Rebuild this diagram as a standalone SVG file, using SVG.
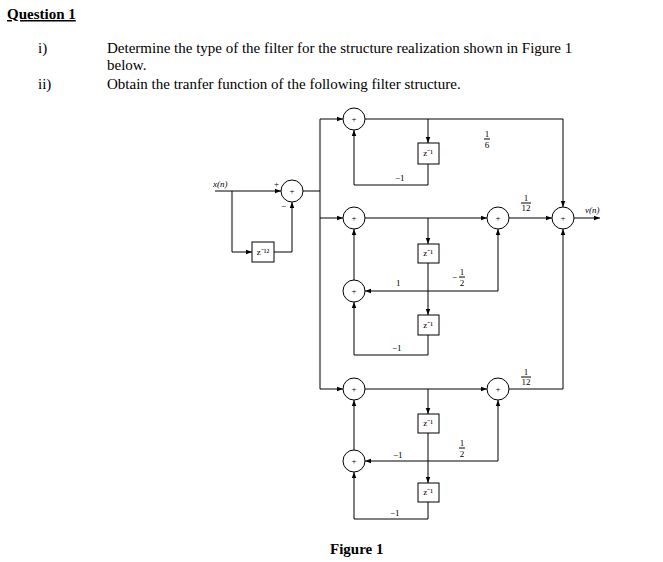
<svg xmlns="http://www.w3.org/2000/svg" width="663" height="562" viewBox="0 0 663 562">
<style>
.t{font-family:"Liberation Serif",serif;font-size:15px;fill:#000}
.s{font-family:"Liberation Serif",serif;font-size:9px;fill:#000}
.w{fill:none;stroke:#000;stroke-width:1}
.add{fill:#fff;stroke:#000;stroke-width:1}
.box{fill:#fff;stroke:#000;stroke-width:1}
</style>
<defs><marker id="a" viewBox="0 0 8 8" refX="8" refY="4" markerWidth="6" markerHeight="6" orient="auto"><path d="M0,1L8,4L0,7z" fill="#000"/></marker></defs>
<rect width="663" height="562" fill="#fff"/>
<text class="t" x="7" y="19" font-weight="bold" text-decoration="underline">Question 1</text>
<text class="t" x="38" y="53">i)</text>
<text class="t" x="107" y="53">Determine the type of the filter for the structure realization shown in Figure 1</text>
<text class="t" x="107" y="70">below.</text>
<text class="t" x="38" y="89">ii)</text>
<text class="t" x="107" y="89">Obtain the tranfer function of the following filter structure.</text>
<text class="t" x="330" y="554" font-weight="bold">Figure 1</text>
<g id="connectors">
<path class="w" d="M215,191H281" marker-end="url(#a)"/>
<path class="w" d="M232,191V252H252" marker-end="url(#a)"/>
<path class="w" d="M274,252H292V202" marker-end="url(#a)"/>
<path class="w" d="M303,191H320"/>
<path class="w" d="M320,119V389"/>
<path class="w" d="M320,119H343" marker-end="url(#a)"/>
<path class="w" d="M320,218H343" marker-end="url(#a)"/>
<path class="w" d="M320,389H343" marker-end="url(#a)"/>
<path class="w" d="M365,119H563V207" marker-end="url(#a)"/>
<path class="w" d="M428,119V143" marker-end="url(#a)"/>
<path class="w" d="M428,164V185H354V130" marker-end="url(#a)"/>
<path class="w" d="M365,218H487" marker-end="url(#a)"/>
<path class="w" d="M428,218V244" marker-end="url(#a)"/>
<path class="w" d="M428,263V315" marker-end="url(#a)"/>
<path class="w" d="M428,291H365" marker-end="url(#a)"/>
<path class="w" d="M428,291H498V229" marker-end="url(#a)"/>
<path class="w" d="M428,335V355H354V302" marker-end="url(#a)"/>
<path class="w" d="M354,280V229" marker-end="url(#a)"/>
<path class="w" d="M509,218H552" marker-end="url(#a)"/>
<path class="w" d="M574,218H600" marker-end="url(#a)"/>
<path class="w" d="M365,389H487" marker-end="url(#a)"/>
<path class="w" d="M428,389V414" marker-end="url(#a)"/>
<path class="w" d="M428,433V483" marker-end="url(#a)"/>
<path class="w" d="M428,461H365" marker-end="url(#a)"/>
<path class="w" d="M428,461H498V400" marker-end="url(#a)"/>
<path class="w" d="M428,502V519H354V472" marker-end="url(#a)"/>
<path class="w" d="M354,450V400" marker-end="url(#a)"/>
<path class="w" d="M509,389H563V229" marker-end="url(#a)"/>
</g>
<g id="adders">
<g id="Ain"><circle class="add" cx="292" cy="191" r="11"/><text class="s" x="292" y="194" text-anchor="middle">+</text></g>
<g id="A1"><circle class="add" cx="354" cy="119" r="11"/><text class="s" x="354" y="122" text-anchor="middle">+</text></g>
<g id="A2"><circle class="add" cx="354" cy="218" r="11"/><text class="s" x="354" y="221" text-anchor="middle">+</text></g>
<g id="A3"><circle class="add" cx="354" cy="291" r="11"/><text class="s" x="354" y="294" text-anchor="middle">+</text></g>
<g id="A4"><circle class="add" cx="354" cy="389" r="11"/><text class="s" x="354" y="392" text-anchor="middle">+</text></g>
<g id="A5"><circle class="add" cx="354" cy="461" r="11"/><text class="s" x="354" y="464" text-anchor="middle">+</text></g>
<g id="B1"><circle class="add" cx="498" cy="218" r="11"/><text class="s" x="498" y="221" text-anchor="middle">+</text></g>
<g id="B2"><circle class="add" cx="498" cy="389" r="11"/><text class="s" x="498" y="392" text-anchor="middle">+</text></g>
<g id="Out"><circle class="add" cx="563" cy="218" r="11"/><text class="s" x="563" y="221" text-anchor="middle">+</text></g>
</g>
<g id="delays">
<g id="Z12"><rect class="box" x="252" y="242" width="22" height="20"/><text class="s" x="263" y="255" text-anchor="middle" font-size="7">z⁻¹²</text></g>
<g id="D1"><rect class="box" x="418" y="143" width="21" height="21"/><text class="s" x="428" y="156" text-anchor="middle" font-size="7">z⁻¹</text></g>
<g id="D2"><rect class="box" x="418" y="244" width="21" height="19"/><text class="s" x="428" y="256" text-anchor="middle" font-size="7">z⁻¹</text></g>
<g id="D3"><rect class="box" x="418" y="315" width="21" height="20"/><text class="s" x="428" y="328" text-anchor="middle" font-size="7">z⁻¹</text></g>
<g id="D4"><rect class="box" x="418" y="414" width="21" height="19"/><text class="s" x="428" y="426" text-anchor="middle" font-size="7">z⁻¹</text></g>
<g id="D5"><rect class="box" x="418" y="483" width="21" height="19"/><text class="s" x="428" y="495" text-anchor="middle" font-size="7">z⁻¹</text></g>
</g>
<g id="labels">
<text class="s" x="213" y="187" font-style="italic">x(n)</text>
<text class="s" x="585" y="213" font-style="italic">v(n)</text>
<text class="s" x="274" y="187">+</text>
<text class="s" x="281" y="209">−</text>
<text class="s" x="395" y="181">−1</text>
<text class="s" x="487" y="137" text-anchor="middle">1</text><path class="w" d="M484,139H490"/><text class="s" x="487" y="148" text-anchor="middle">6</text>
<text class="s" x="526" y="201" text-anchor="middle">1</text><path class="w" d="M521,203H531"/><text class="s" x="526" y="211" text-anchor="middle">12</text>
<text class="s" x="396" y="286">1</text>
<text class="s" x="452" y="280">−</text><text class="s" x="462" y="275" text-anchor="middle">1</text><path class="w" d="M459,277H465"/><text class="s" x="462" y="286" text-anchor="middle">2</text>
<text class="s" x="392" y="351">−1</text>
<text class="s" x="526" y="375" text-anchor="middle">1</text><path class="w" d="M521,377H531"/><text class="s" x="526" y="385" text-anchor="middle">12</text>
<text class="s" x="393" y="458">−1</text>
<text class="s" x="462" y="446" text-anchor="middle">1</text><path class="w" d="M459,448H465"/><text class="s" x="462" y="457" text-anchor="middle">2</text>
<text class="s" x="390" y="516">−1</text>
</g>
</svg>
